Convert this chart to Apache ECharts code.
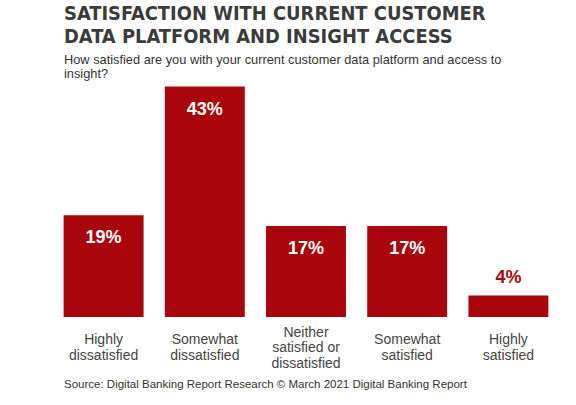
<!DOCTYPE html>
<html>
<head>
<meta charset="utf-8">
<script src="https://cdn.jsdelivr.net/npm/echarts@6/dist/echarts.min.js"></script>
<style>
  html, body { margin: 0; padding: 0; background: #fff; }
  #chart { width: 576px; height: 405px; }
</style>
</head>
<body>
<div id="chart"></div>
<script>
// data
var categories = [
  'Highly\ndissatisfied',
  'Somewhat\ndissatisfied',
  'Neither\nsatisfied or\ndissatisfied',
  'Somewhat\nsatisfied',
  'Highly\nsatisfied'
];
var values = [19, 43, 17, 17, 4];

var red = '#a8050c';
var ink = '#3b3b3b';
var text = '#444444';

var chart = echarts.init(document.getElementById('chart'), null, { renderer: 'svg' });

// small bars get their label above the bar, in red
var seriesData = values.map(function(v) {
  if (v < 8) {
    return { value: v, label: { position: 'top', color: red, distance: 10 } };
  }
  return v;
});

chart.setOption({
  animation: false,
  title: [
    {
      text: 'SATISFACTION WITH CURRENT CUSTOMER\nDATA PLATFORM AND INSIGHT ACCESS',
      left: 64, top: 2, padding: 0,
      textStyle: {
        fontFamily: '"DejaVu Sans Condensed", sans-serif',
        fontWeight: 'bold', fontSize: 19.9, lineHeight: 23, color: ink
      }
    },
    {
      text: 'How satisfied are you with your current customer data platform and access to\ninsight?',
      left: 64, top: 52, padding: 0,
      textStyle: {
        fontFamily: '"Liberation Sans", Arial, sans-serif',
        fontWeight: 'normal', fontSize: 12.8, lineHeight: 14, color: '#333'
      }
    },
    {
      text: 'Source: Digital Banking Report Research \u00a9 March 2021 Digital Banking Report',
      left: 64, top: 378, padding: 0,
      textStyle: {
        fontFamily: '"Liberation Sans", Arial, sans-serif',
        fontWeight: 'normal', fontSize: 11.5, color: '#333'
      }
    }
  ],
  grid: { left: 53, right: 17, top: 49, bottom: 88, containLabel: false },
  xAxis: {
    type: 'category',
    data: categories,
    axisLine: { show: false },
    axisTick: { show: false },
    axisLabel: {
      interval: 0,
      margin: 30,
      verticalAlign: 'middle',
      fontFamily: '"Liberation Sans", Arial, sans-serif',
      fontSize: 14, lineHeight: 15.5, color: text
    }
  },
  yAxis: {
    type: 'value',
    min: 0, max: 50,
    show: false,
    splitLine: { show: false }
  },
  series: [{
    type: 'bar',
    data: seriesData,
    barCategoryGap: '21%',
    itemStyle: { color: red },
    label: {
      show: true,
      position: 'insideTop',
      distance: 13,
      formatter: '{c}%',
      color: '#fff',
      fontFamily: '"Liberation Sans", Arial, sans-serif',
      fontWeight: 'bold',
      fontSize: 18
    }
  }]
});
</script>
</body>
</html>
